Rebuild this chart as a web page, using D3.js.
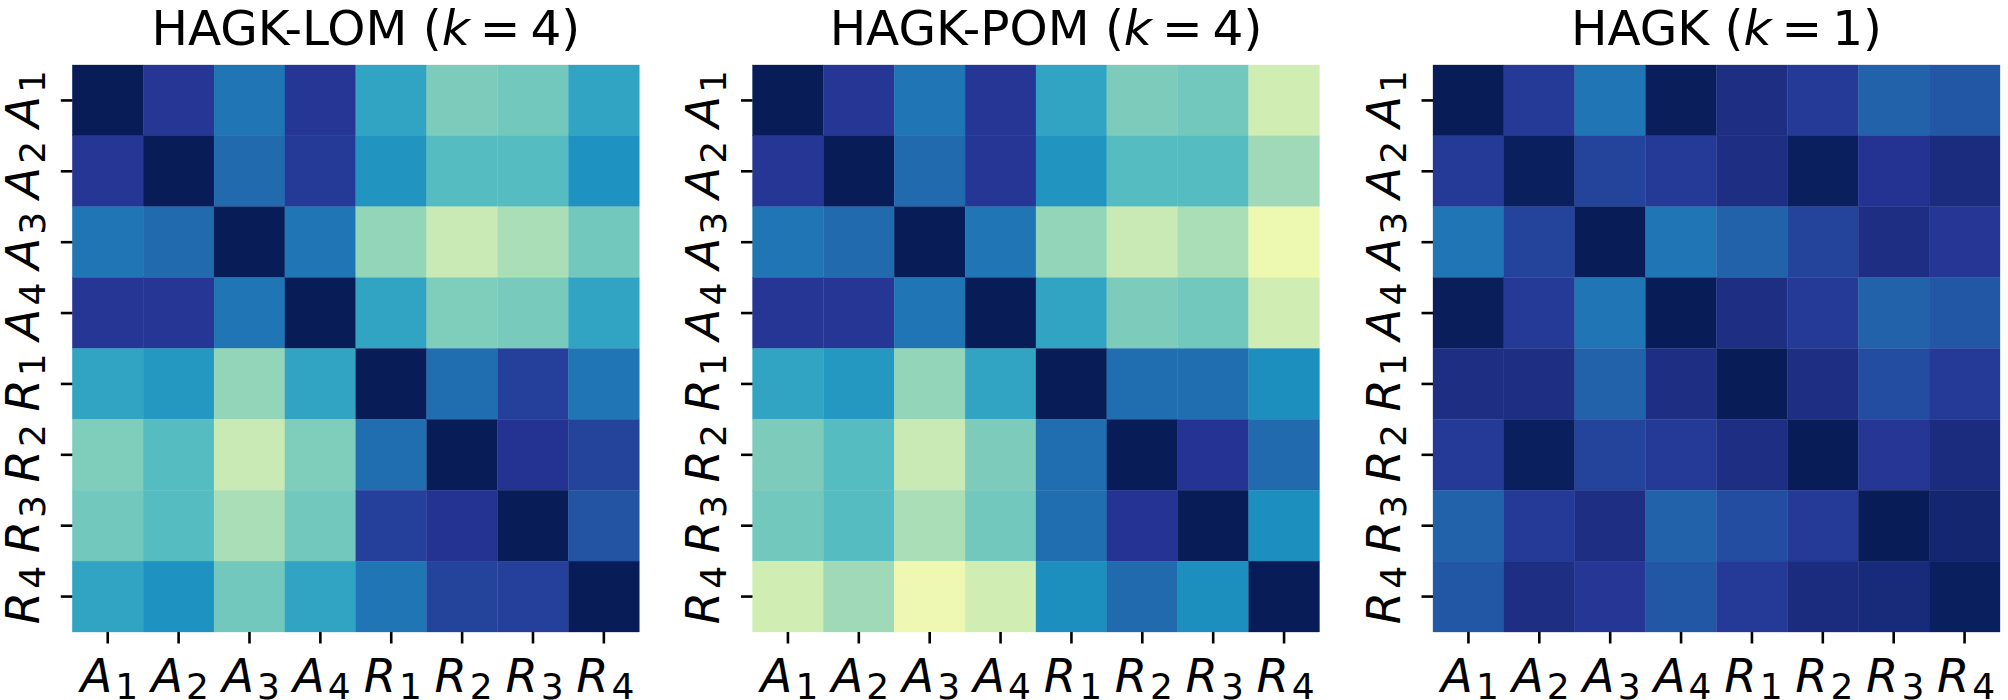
<!DOCTYPE html>
<html>
<head>
<meta charset="utf-8">
<script src="https://cdn.jsdelivr.net/npm/d3@7"></script>
<style>
  html, body { margin: 0; padding: 0; background: #ffffff; }
  svg { display: block; }
  text { font-family: "DejaVu Sans", sans-serif; fill: #000; }
</style>
</head>
<body>
<svg id="chart" width="2008" height="700"></svg>
<script>
// ---- data ----
const categories = [
  {base: "A", sub: "1"}, {base: "A", sub: "2"}, {base: "A", sub: "3"}, {base: "A", sub: "4"},
  {base: "R", sub: "1"}, {base: "R", sub: "2"}, {base: "R", sub: "3"}, {base: "R", sub: "4"}
];
const panelTitles = [
  {pre: "HAGK-LOM (", k: "k", val: "4"},
  {pre: "HAGK-POM (", k: "k", val: "4"},
  {pre: "HAGK (", k: "k", val: "1"}
];
const lomValues = [
  [1.00, 0.87, 0.69, 0.87, 0.56, 0.38, 0.40, 0.56],
  [0.87, 1.00, 0.72, 0.86, 0.61, 0.46, 0.46, 0.62],
  [0.69, 0.72, 1.00, 0.69, 0.34, 0.245, 0.30, 0.40],
  [0.87, 0.87, 0.69, 1.00, 0.56, 0.375, 0.39, 0.56],
  [0.56, 0.60, 0.34, 0.56, 1.00, 0.71, 0.84, 0.69],
  [0.375, 0.46, 0.245, 0.375, 0.71, 1.00, 0.88, 0.83],
  [0.40, 0.46, 0.30, 0.40, 0.84, 0.88, 1.00, 0.78],
  [0.56, 0.62, 0.40, 0.56, 0.69, 0.83, 0.84, 1.00]
];
const pomValues = [
  [1.00, 0.87, 0.69, 0.87, 0.56, 0.38, 0.40, 0.22],
  [0.87, 1.00, 0.72, 0.87, 0.61, 0.46, 0.46, 0.32],
  [0.69, 0.72, 1.00, 0.69, 0.34, 0.245, 0.30, 0.125],
  [0.87, 0.87, 0.69, 1.00, 0.56, 0.38, 0.40, 0.22],
  [0.56, 0.60, 0.34, 0.56, 1.00, 0.71, 0.71, 0.63],
  [0.38, 0.46, 0.245, 0.38, 0.71, 1.00, 0.875, 0.72],
  [0.40, 0.46, 0.30, 0.40, 0.71, 0.875, 1.00, 0.63],
  [0.22, 0.32, 0.12, 0.22, 0.63, 0.72, 0.63, 1.00]
];
const hagkValues = [
  [1.00, 0.86, 0.69, 0.995, 0.91, 0.86, 0.74, 0.77],
  [0.86, 0.99, 0.83, 0.86, 0.91, 0.99, 0.88, 0.92],
  [0.69, 0.83, 1.00, 0.69, 0.74, 0.83, 0.91, 0.87],
  [0.995, 0.86, 0.69, 1.00, 0.91, 0.86, 0.74, 0.77],
  [0.91, 0.91, 0.74, 0.91, 1.00, 0.91, 0.80, 0.86],
  [0.86, 0.99, 0.83, 0.86, 0.91, 1.00, 0.87, 0.92],
  [0.74, 0.86, 0.91, 0.74, 0.80, 0.86, 1.00, 0.95],
  [0.77, 0.91, 0.87, 0.77, 0.86, 0.92, 0.93, 0.99]
];
const panelValues = [lomValues, pomValues, hagkValues];
// YlGnBu (ColorBrewer 9-class, linear as in matplotlib)
const ylGnBu = ["#ffffd9","#edf8b1","#c7e9b4","#7fcdbb","#41b6c4","#1d91c0","#225ea8","#253494","#081d58"];

// ---- layout ----
const panelX = [72.3, 752.5, 1433];
const panelTop = 65, panelSize = 567;
const fontSize = 46.5, subSize = 36, subDrop = 6.6;
const tickLen = 11.5;

const svg = d3.select("#chart");
const color = d3.scaleSequential(d3.piecewise(d3.interpolateRgb, ylGnBu)).domain([0, 1]);
const idx = d3.range(categories.length);

// build label at origin (anchor start), then center horizontally on its measured width
function makeLabel(parent, cat) {
  const outer = parent.append("g");
  const t = outer.append("text").attr("x", 0).attr("y", 0)
    .attr("text-anchor", "start").attr("font-size", fontSize);
  t.append("tspan").attr("font-style", "italic").text(cat.base);
  t.append("tspan").attr("font-size", subSize).attr("dy", subDrop).attr("dx", 3).text(cat.sub);
  const w = t.node().getComputedTextLength();
  t.attr("x", -w / 2);
  return outer;
}

panelValues.forEach((mat, p) => {
  const g = svg.append("g").attr("transform", `translate(${panelX[p]},${panelTop})`);
  const x = d3.scaleBand().domain(idx).range([0, panelSize]);
  const y = d3.scaleBand().domain(idx).range([0, panelSize]);

  const cells = [];
  mat.forEach((row, i) => row.forEach((v, j) => cells.push({i, j, v})));
  g.selectAll("rect.cell").data(cells).join("rect")
    .attr("class", "cell")
    .attr("x", d => x(d.j)).attr("y", d => y(d.i))
    .attr("width", x.bandwidth()).attr("height", y.bandwidth())
    .attr("fill", d => color(d.v))
    .attr("stroke", d => color(d.v)).attr("stroke-width", 0.3);

  // x axis
  const xAxis = d3.axisBottom(x).tickSize(tickLen).tickFormat("");
  const gx = g.append("g").attr("transform", `translate(0,${panelSize})`).call(xAxis);
  gx.select(".domain").remove();
  gx.selectAll(".tick line").attr("stroke", "#000").attr("stroke-width", 2.6);
  idx.forEach(k => {
    makeLabel(g, categories[k])
      .attr("transform", `translate(${x(k) + x.bandwidth() / 2},${panelSize + 60})`);
  });

  // y axis
  const yAxis = d3.axisLeft(y).tickSize(tickLen).tickFormat("");
  const gy = g.append("g").call(yAxis);
  gy.select(".domain").remove();
  gy.selectAll(".tick line").attr("stroke", "#000").attr("stroke-width", 2.6);
  idx.forEach(k => {
    makeLabel(g, categories[k])
      .attr("transform", `translate(-33.5,${y(k) + y.bandwidth() / 2}) rotate(-90)`);
  });

  // title
  const tt = panelTitles[p];
  const title = g.append("text")
    .attr("x", 0).attr("y", 44.5 - panelTop)
    .attr("text-anchor", "start")
    .attr("font-size", 48.5);
  title.append("tspan").text(tt.pre);
  title.append("tspan").attr("font-style", "italic").text(tt.k);
  title.append("tspan").attr("dx", 10).text("=");
  title.append("tspan").attr("dx", 10).text(tt.val);
  title.append("tspan").text(")");
  const tw = title.node().getComputedTextLength();
  title.attr("x", panelSize / 2 - tw / 2);
});
</script>
</body>
</html>
